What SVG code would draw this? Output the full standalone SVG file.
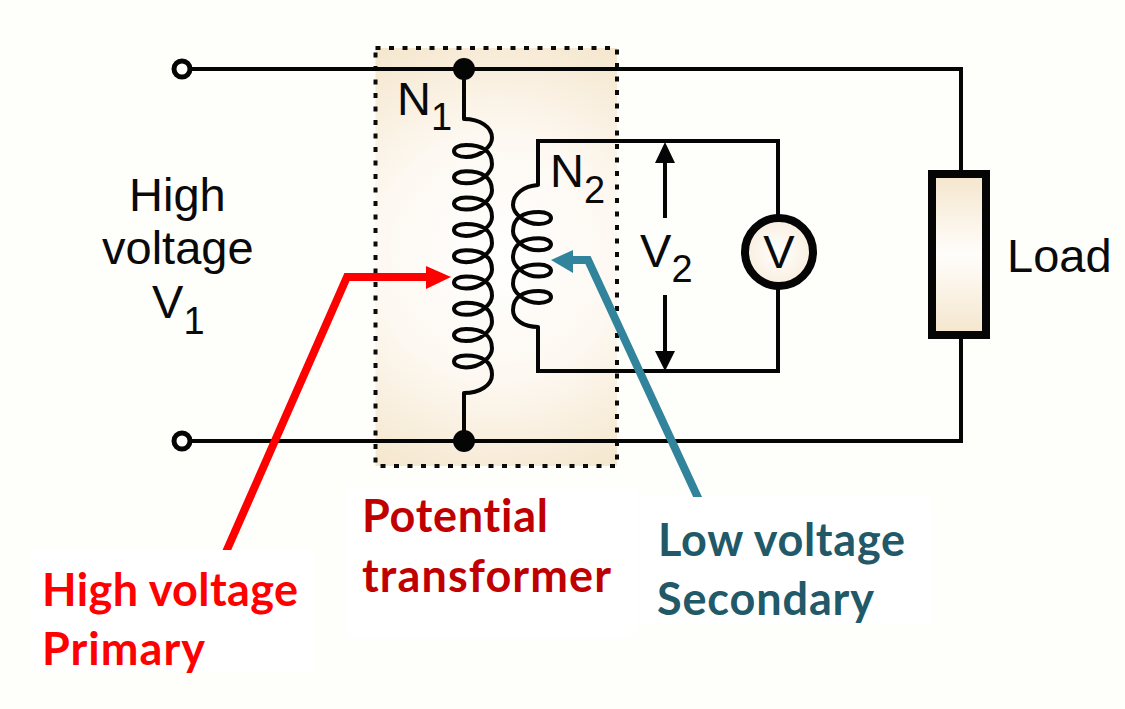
<svg xmlns="http://www.w3.org/2000/svg" width="1125" height="709" viewBox="0 0 1125 709">
<style>
.w{fill:none;stroke:#050505;stroke-width:4;stroke-linejoin:miter}
.c{fill:none;stroke:#050505;stroke-width:4;stroke-linecap:round}
.t{font-family:"Liberation Sans",Arial,sans-serif;font-size:47px;fill:#0a0a0a}
.s{font-family:"Liberation Sans",Arial,sans-serif;font-size:38px;fill:#0a0a0a}
.b{font-family:Lato,"Open Sans",sans-serif;font-weight:700;font-size:45px;font-variant-ligatures:none}
.k{fill:#050505}
</style>
<defs>
<radialGradient id="g" gradientUnits="userSpaceOnUse" cx="497" cy="257" r="245">
<stop offset="0" stop-color="#ffffff"/><stop offset="0.5" stop-color="#fdf8f1"/><stop offset="1" stop-color="#f5e6cc"/>
</radialGradient>
<linearGradient id="l" x1="0" y1="0" x2="0" y2="1">
<stop offset="0" stop-color="#f5e6cc"/><stop offset="0.5" stop-color="#fffdfb"/><stop offset="1" stop-color="#f5e6cc"/>
</linearGradient>
<radialGradient id="v" cx="0.5" cy="0.5" r="0.55">
<stop offset="0" stop-color="#ffffff"/><stop offset="1" stop-color="#f8ecdb"/>
</radialGradient>
</defs>
<rect id="background" width="1125" height="709" fill="#fefefb"/>
<g id="transformer-box">
<rect x="375.500" y="48" width="241.500" height="418" fill="url(#g)"/>
<rect x="375.500" y="48" width="241.500" height="418" fill="none" stroke="#0a0a0a" stroke-width="4" stroke-dasharray="5 8.500"/>
</g>
<g id="connectors">
<path class="w" d="M189 69H961V172M961 337V441H189"/>
<path class="w" d="M538 185V141H778V218M778 286V371H538V327"/>
<path class="w" d="M464 69V119M464 393V441"/>
<path class="c" d="M464 119C480 119 492 127 492 138c0,7 -10,19 -26,19c-8,0 -12,-3 -12,-6c0,-3 4,-6 12,-6c16,0 26,6 26,19.300c0,7 -10,19 -26,19c-8,0 -12,-3 -12,-6c0,-3 4,-6 12,-6c16,0 26,6 26,19.300c0,7 -10,19 -26,19c-8,0 -12,-3 -12,-6c0,-3 4,-6 12,-6c16,0 26,6 26,19.300c0,7 -10,19 -26,19c-8,0 -12,-3 -12,-6c0,-3 4,-6 12,-6c16,0 26,6 26,19.300c0,7 -10,19 -26,19c-8,0 -12,-3 -12,-6c0,-3 4,-6 12,-6c16,0 26,6 26,19.300c0,7 -10,19 -26,19c-8,0 -12,-3 -12,-6c0,-3 4,-6 12,-6c16,0 26,6 26,19.300c0,7 -10,19 -26,19c-8,0 -12,-3 -12,-6c0,-3 4,-6 12,-6c16,0 26,6 26,19.300c0,7 -10,19 -26,19c-8,0 -12,-3 -12,-6c0,-3 4,-6 12,-6c16,0 26,6 26,19.300c0,7 -10,19 -26,19c-8,0 -12,-3 -12,-6c0,-3 4,-6 12,-6c16,0 26,6 26,19.300C492 385 480 393 464 393"/>
<path class="c" d="M538 185C524 186 513 194 513 205c0,7 10,19 26,19c8,0 12,-3 12,-6c0,-3 -4,-6 -12,-6c-16,0 -26,6 -26,19.300c0,7 10,19 26,19c8,0 12,-3 12,-6c0,-3 -4,-6 -12,-6c-16,0 -26,6 -26,19.300c0,7 10,19 26,19c8,0 12,-3 12,-6c0,-3 -4,-6 -12,-6c-16,0 -26,6 -26,19.300c0,7 10,19 26,19c8,0 12,-3 12,-6c0,-3 -4,-6 -12,-6c-16,0 -26,6 -26,19.300C513 320 524 327 538 327"/>
<path class="w" d="M665 160V218M665 295V354"/>
<path class="k" d="M665 142L675 163H655ZM665 371L675 351H655Z"/>
<path fill="none" stroke="#ff0000" stroke-width="8" d="M226 552L347 277H430"/>
<path fill="#ff0000" d="M451 277L426 266V289Z"/>
<path fill="none" stroke="#31849b" stroke-width="8" d="M699 500L588 260H570"/>
<path fill="#31849b" d="M551 260L573 250V273Z"/>
</g>
<g id="terminal-top"><circle cx="182" cy="69" r="8" fill="#fefefb" stroke="#050505" stroke-width="5"/></g>
<g id="terminal-bottom"><circle cx="182" cy="441" r="8" fill="#fefefb" stroke="#050505" stroke-width="5"/></g>
<g id="junction-top"><circle class="k" cx="464" cy="69" r="11"/></g>
<g id="junction-bottom"><circle class="k" cx="464" cy="441" r="11"/></g>
<g id="load"><rect x="932" y="174" width="54" height="161" fill="url(#l)" stroke="#050505" stroke-width="8"/><text class="t" x="1007" y="272">Load</text></g>
<g id="voltmeter"><circle cx="779" cy="252" r="34" fill="url(#v)" stroke="#050505" stroke-width="8"/><text class="t" x="779" y="268" text-anchor="middle">V</text></g>
<g id="label-v1"><text class="t" x="129" y="211">High</text><text class="t" x="102" y="264">voltage</text><text class="t" x="152" y="318">V</text><text class="s" x="183.500" y="334">1</text></g>
<g id="label-n1"><text class="t" x="397" y="115">N</text><text class="s" x="431" y="130">1</text></g>
<g id="label-n2"><text class="t" x="550" y="187">N</text><text class="s" x="584" y="203">2</text></g>
<g id="label-v2"><text class="t" x="640" y="267">V</text><text class="s" x="671.500" y="282">2</text></g>
<g id="label-primary"><rect x="30" y="550" width="286" height="122" fill="#ffffff"/><text class="b" fill="#ff0000" x="42" y="606" textLength="256">High voltage</text><text class="b" fill="#ff0000" x="42" y="665" textLength="163">Primary</text></g>
<g id="label-transformer"><rect x="346" y="488" width="292" height="150" fill="#ffffff"/><text class="b" fill="#c00000" x="362" y="532" textLength="186">Potential</text><text class="b" fill="#c00000" x="362" y="592" textLength="249">transformer</text></g>
<g id="label-secondary"><rect x="640" y="497" width="292" height="128" fill="#ffffff"/><text class="b" fill="#215968" x="658" y="556" textLength="247">Low voltage</text><text class="b" fill="#215968" x="657" y="615" textLength="217">Secondary</text></g>
</svg>
